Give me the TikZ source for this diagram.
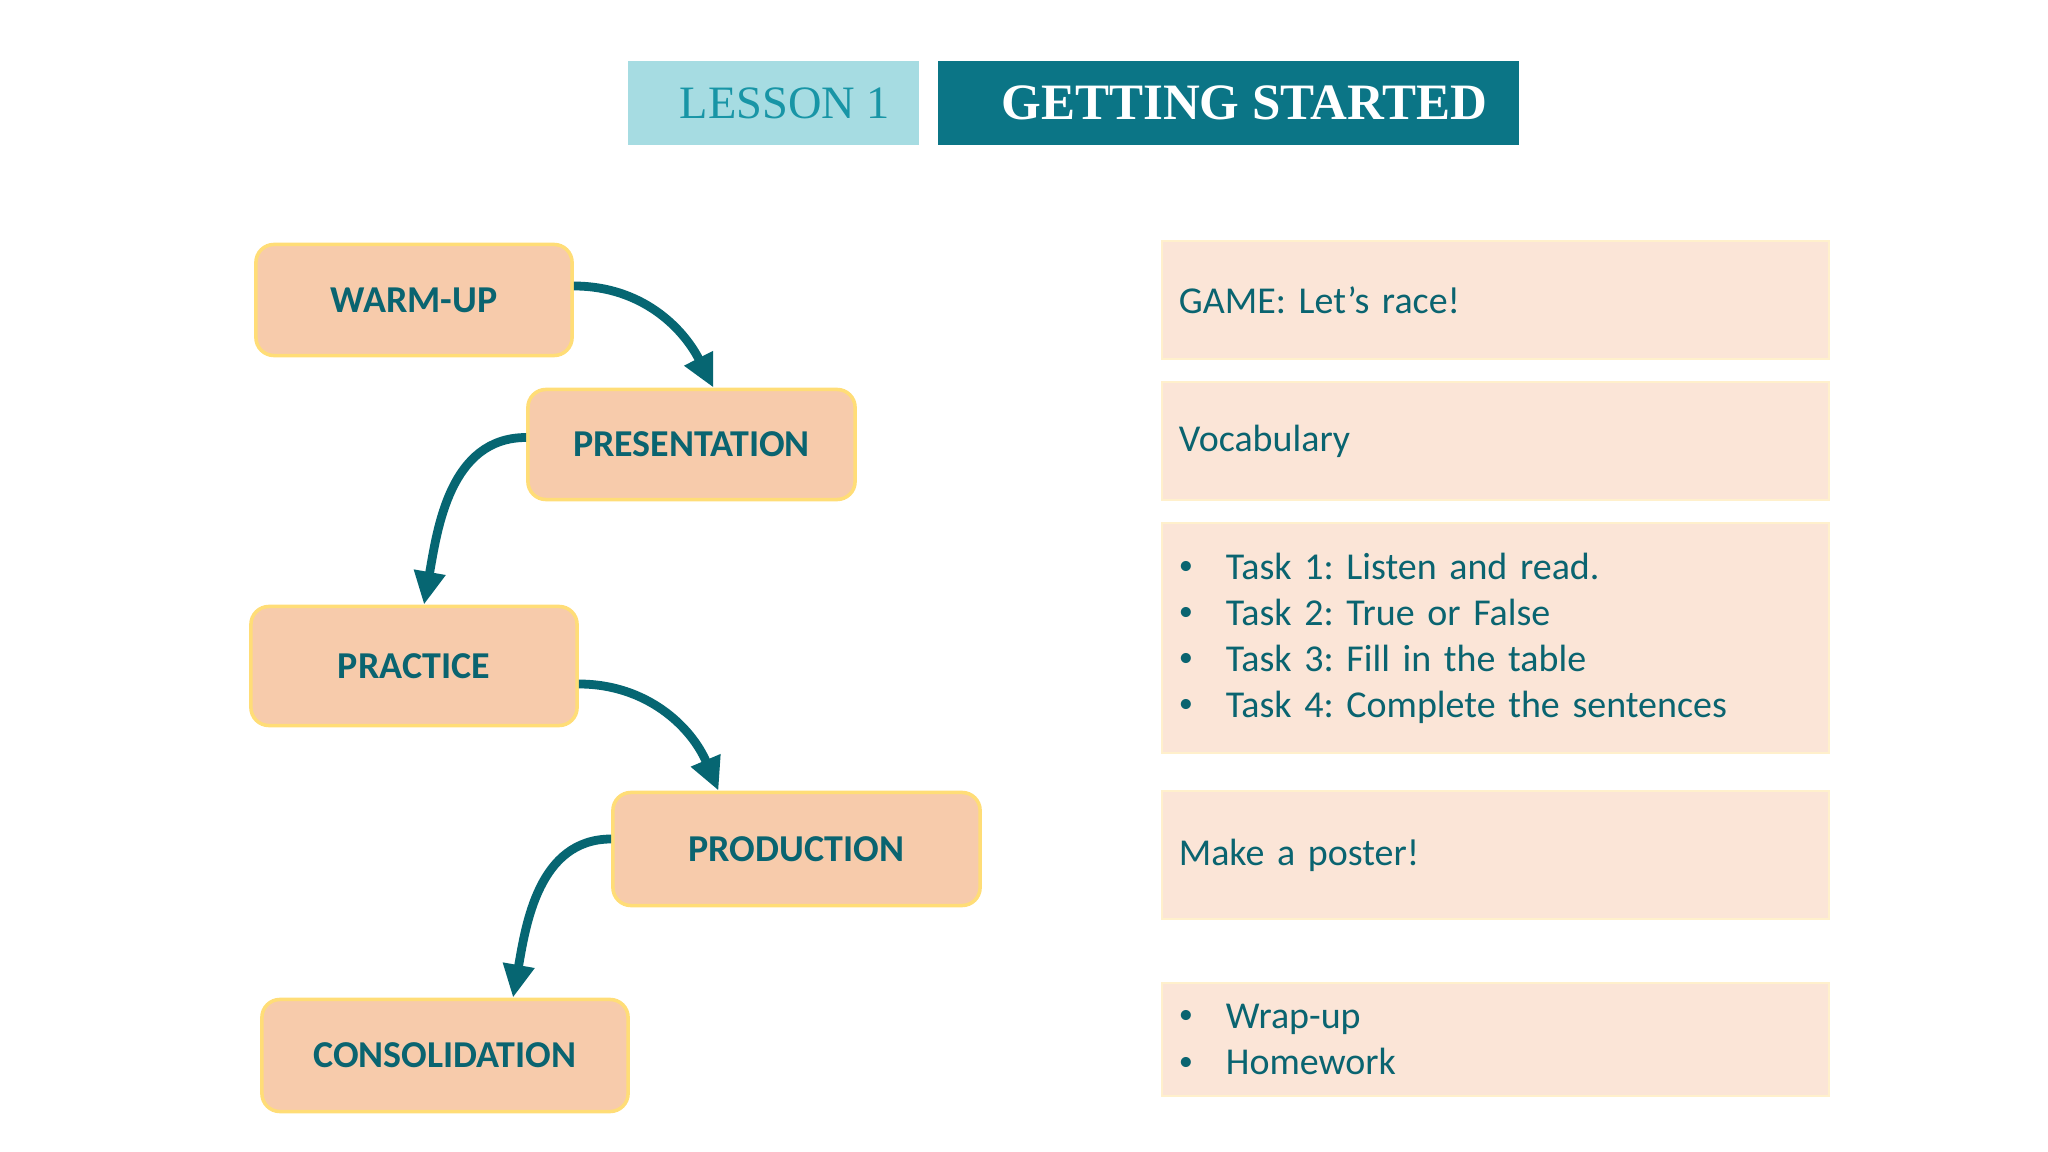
\documentclass[tikz,border=0pt]{standalone}
\usepackage{fontspec}
\setmainfont{Carlito}
\newfontfamily\headfont{Liberation Serif}
\usepackage{tikz}
\usetikzlibrary{calc,arrows.meta}
\frenchspacing
\definecolor{tealx}{HTML}{0A6470}
\definecolor{arrowx}{HTML}{066672}
\definecolor{headdark}{HTML}{0B7586}
\definecolor{headlight}{HTML}{A6DCE2}
\definecolor{headtext}{HTML}{1895A6}
\definecolor{peachx}{HTML}{F7CBAB}
\definecolor{goldx}{HTML}{FFDD77}
\definecolor{softbg}{HTML}{FBE5D7}
\definecolor{creamx}{HTML}{FFF0CC}
\tikzset{
  ar/.style={-{Triangle[length=3.3mm,width=3mm]},line width=2.5pt,arrowx},
  stage/.style={draw=goldx,line width=1pt,fill=peachx,rounded corners=1.8mm,text=tealx,
    font=\fontsize{10.8pt}{13pt}\selectfont\bfseries},
  note/.style={draw=creamx,line width=0.6pt,fill=softbg,align=left,text=tealx,
    minimum width=6.67cm,text width=6.33cm,inner xsep=0.17cm,
    font=\fontsize{10.8pt}{13.1pt}\selectfont},
  head/.style={minimum height=0.84cm,inner sep=0pt}
}
\newcommand{\bul}{\makebox[0.47cm][l]{\raisebox{0.25ex}{\scalebox{0.75}{\textbullet}}}}

\begin{document}
\begin{tikzpicture}[x=0.01cm,y=0.01cm]
\useasboundingbox[fill=white] (0,0) rectangle (2048,-1152);
% title bar
\node[head,fill=headlight,minimum width=2.91cm,text=headtext,font=\headfont\fontsize{13.2pt}{15pt}\selectfont]
  (lesson) at (773.5,-103) {\hspace*{0.23cm}LESSON 1};
\node[head,fill=headdark,minimum width=5.81cm,text=white,font=\headfont\fontsize{14.5pt}{16pt}\selectfont\bfseries]
  (title) at (1228.5,-103) {\hspace*{0.32cm}GETTING STARTED};
% stages
\node[stage,minimum width=3.16cm,minimum height=1.11cm] (warm) at (414,-300) {WARM-UP};
\node[stage,minimum width=3.27cm,minimum height=1.10cm] (pres) at (691.5,-444.5) {PRESENTATION};
\node[stage,minimum width=3.26cm,minimum height=1.19cm] (prac) at (414,-666) {PRACTICE};
\node[stage,minimum width=3.67cm,minimum height=1.13cm] (prod) at (796.5,-849) {PRODUCTION};
\node[stage,minimum width=3.66cm,minimum height=1.12cm] (cons) at (445,-1055.5) {CONSOLIDATION};
% activities
\node[note,minimum height=1.18cm] (game) at (1495.5,-300) {GAME: Let’s race!};
\node[note,minimum height=1.18cm] (vocab) at (1495.5,-441) {Vocabulary};
\node[note,minimum height=2.30cm] (tasks) at (1495.5,-638)
  {\bul Task 1: Listen and read.\\ \bul Task 2: True or False\\ \bul Task 3: Fill in the table\\ \bul Task 4: Complete the sentences};
\node[note,minimum height=1.28cm] (poster) at (1495.5,-855) {Make a poster!};
\node[note,minimum height=1.13cm] (wrap) at (1495.5,-1039.5) {\bul Wrap-up\\ \bul Homework};
% flow
\draw[ar] ($(warm.east)+(0,14)$) to[out=0,in=117] ($(pres.north)+(22,0)$);
\draw[ar] ($(pres.west)+(0,7)$) to[out=180,in=80] ($(prac.north)+(10,0)$);
\draw[ar] ($(prac.east)+(0,-18)$) to[out=0,in=113] ($(prod.north)+(-78,0)$);
\draw[ar] ($(prod.west)+(0,10)$) to[out=180,in=80] ($(cons.north)+(68,0)$);
\end{tikzpicture}
\end{document}
